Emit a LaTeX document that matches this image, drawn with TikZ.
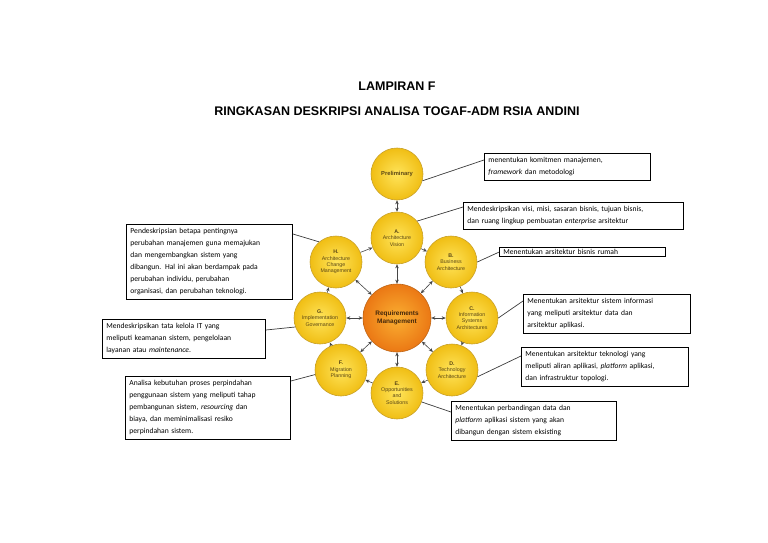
\documentclass[tikz,border=0pt]{standalone}
\usepackage{fontspec}
\setmainfont{Carlito}
\newfontfamily\titlefont{Liberation Sans}
\newfontfamily\circfont{Liberation Sans}
\usetikzlibrary{arrows.meta}
\begin{document}
\begin{tikzpicture}[x=1pt,y=-1pt,
  ball/.style={circle,minimum size=52pt,inner sep=0pt,draw={rgb,255:red,200;green,160;blue,40},line width=0.6pt,
     inner color={rgb,255:red,255;green,228;blue,90},outer color={rgb,255:red,240;green,190;blue,20},
     font=\circfont\fontsize{5.3}{6.3}\selectfont,align=center,text={rgb,255:red,90;green,70;blue,20}},
  cball/.style={ball,minimum size=68pt,inner color={rgb,255:red,250;green,175;blue,50},outer color={rgb,255:red,235;green,120;blue,20},
     draw={rgb,255:red,190;green,100;blue,20},font=\circfont\bfseries\fontsize{6.5}{8}\selectfont,text={rgb,255:red,70;green,40;blue,10}},
  note/.style={draw,line width=0.9pt,anchor=north west,align=left,inner sep=4pt,font=\fontsize{7.6}{12}\selectfont},
  lead/.style={line width=0.7pt,draw={rgb,255:red,60;green,60;blue,60}},
  arr/.style={-{Stealth[length=4pt,width=3.5pt]},line width=0.6pt,draw={rgb,255:red,70;green,70;blue,70}},
  darr/.style={arr,{Stealth[length=4pt,width=3.5pt]}-{Stealth[length=4pt,width=3.5pt]}}]
\useasboundingbox (0,0) rectangle (768,543);
\node[font=\titlefont\bfseries\fontsize{12.5}{14}\selectfont] (t1) at (397,86) {LAMPIRAN F};
\node[font=\titlefont\bfseries\fontsize{12.5}{14}\selectfont] (t2) at (397,111) {RINGKASAN DESKRIPSI ANALISA TOGAF-ADM RSIA ANDINI};

\node[ball,font=\circfont\bfseries\fontsize{5.8}{6}\selectfont] (P) at (397,174) {Preliminary};
\node[cball] (R) at (397,318) {Requirements\\Management};
\node[ball] (A) at (397,238) {\textbf{A.}\\Architecture\\Vision};
\node[ball] (B) at (451,262) {\textbf{B.}\\Business\\Architecture};
\node[ball] (C) at (472,318) {\textbf{C.}\\Information\\Systems\\Architectures};
\node[ball] (D) at (452,370) {\textbf{D.}\\Technology\\Architecture};
\node[ball] (E) at (397,393) {\textbf{E.}\\Opportunities\\and\\Solutions};
\node[ball] (F) at (341,370) {\textbf{F.}\\Migration\\Planning};
\node[ball] (G) at (320,318) {\textbf{G.}\\Implementation\\Governance};
\node[ball] (H) at (336,262) {\textbf{H.}\\Architecture\\Change\\Management};

\draw[darr] (P) -- (A);
\foreach \n in {A,B,C,D,E,F,G,H} \draw[darr] (R) -- (\n);
\draw[arr] (A) -- (B); \draw[arr] (B) -- (C); \draw[arr] (C) -- (D); \draw[arr] (D) -- (E);
\draw[arr] (E) -- (F); \draw[arr] (F) -- (G); \draw[arr] (G) -- (H); \draw[arr] (H) -- (A);

\node[note,text width=158pt] (n1) at (484,153) {menentukan komitmen manajemen,\\\textit{framework} dan metodologi};
\node[note,text width=212pt] (n2) at (463,202) {Mendeskripsikan visi, misi, sasaran bisnis, tujuan bisnis,\\dan ruang lingkup pembuatan \textit{enterprise} arsitektur};
\node[note,text width=158pt,inner ysep=2pt] (n3) at (499,247) {Menentukan arsitektur bisnis rumah};
\node[note,text width=159pt] (n4) at (523,294) {Menentukan arsitektur sistem informasi\\yang meliputi arsitektur data dan\\arsitektur aplikasi.};
\node[note,text width=159pt] (n5) at (521,347) {Menentukan arsitektur teknologi yang\\meliputi aliran aplikasi, \textit{platform} aplikasi,\\dan infrastruktur topologi.};
\node[note,text width=157pt] (n6) at (451,401) {Menentukan perbandingan data dan\\\textit{platform} aplikasi sistem yang akan\\dibangun dengan sistem eksisting};
\node[note,text width=158pt] (n7) at (126,224) {Pendeskripsian betapa pentingnya\\perubahan manajemen guna memajukan\\dan mengembangkan sistem yang\\dibangun. Hal ini akan berdampak pada\\perubahan individu, perubahan\\organisasi, dan perubahan teknologi.};
\node[note,text width=155pt] (n8) at (102,319) {Mendeskripsikan tata kelola IT yang\\meliputi keamanan sistem, pengelolaan\\layanan atau \textit{maintenance}.};
\node[note,text width=157pt] (n9) at (125,376) {Analisa kebutuhan proses perpindahan\\penggunaan sistem yang meliputi tahap\\pembangunan sistem, \textit{resourcing} dan\\biaya, dan meminimalisasi resiko\\perpindahan sistem.};

\draw[lead] (P.-15) -- (n1.west|-0,160);
\draw[lead] (A.40) -- (n2.west|-0,207);
\draw[lead] (B.east) -- (n3.west);
\draw[lead] (C.east) -- (n4.west|-0,301);
\draw[lead] (D.-15) -- (n5.west|-0,356);
\draw[lead] (E.-20) -- (n6.west|-0,412);
\draw[lead] (H.130) -- (n7.east|-0,234);
\draw[lead] (G.200) -- (n8.east|-0,330);
\draw[lead] (F.190) -- (n9.east|-0,381);
\end{tikzpicture}
\end{document}
